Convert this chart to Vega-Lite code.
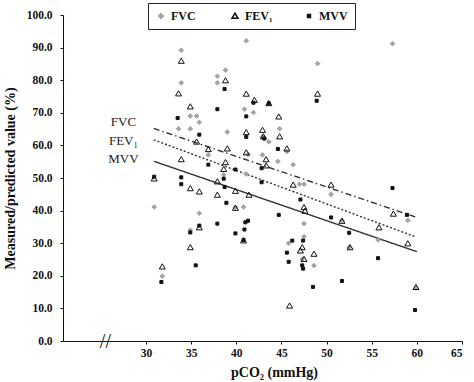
{
  "$schema": "https://vega.github.io/schema/vega-lite/v6.json",
  "width": 399,
  "height": 326,
  "autosize": {"type": "none"},
  "padding": {"left": 63, "top": 15, "right": 12, "bottom": 41},
  "background": "white",
  "config": {
    "view": {"stroke": null},
    "font": "Liberation Serif",
    "axis": {
      "grid": false,
      "domainColor": "#111",
      "tickColor": "#111",
      "tickSize": 3,
      "labelFont": "Liberation Serif",
      "labelFontWeight": "bold",
      "labelFontSize": 11.5,
      "labelColor": "#111",
      "titleFont": "Liberation Serif",
      "titleFontWeight": "bold",
      "titleFontSize": 14,
      "titleColor": "#111"
    },
    "axisY": {"labelOverlap": false, "tickCount": 11},
    "axisX": {"titleX": 211},
    "legend": {
      "orient": "none",
      "legendX": 85,
      "legendY": -12,
      "direction": "horizontal",
      "strokeColor": "#222",
      "fillColor": "white",
      "padding": 7,
      "labelFont": "Liberation Serif",
      "labelFontWeight": "bold",
      "labelFontSize": 12,
      "labelColor": "#111",
      "gridAlign": "all",
      "columnPadding": 28,
      "symbolSize": 30,
      "title": null
    }
  },
  "datasets": {
    "pts": [
      {"series": "FVC", "pco2": 30.9, "value": 41.1},
      {"series": "FVC", "pco2": 31.8, "value": 19.9},
      {"series": "FVC", "pco2": 33.9, "value": 89.2},
      {"series": "FVC", "pco2": 33.9, "value": 79.2},
      {"series": "FVC", "pco2": 33.6, "value": 65.1},
      {"series": "FVC", "pco2": 34.9, "value": 69.0},
      {"series": "FVC", "pco2": 34.9, "value": 65.1},
      {"series": "FVC", "pco2": 35.6, "value": 69.0},
      {"series": "FVC", "pco2": 35.9, "value": 67.1},
      {"series": "FVC", "pco2": 35.9, "value": 39.2},
      {"series": "FVC", "pco2": 34.9, "value": 34.0},
      {"series": "FVC", "pco2": 36.9, "value": 57.1},
      {"series": "FVC", "pco2": 37.9, "value": 81.2},
      {"series": "FVC", "pco2": 37.9, "value": 79.2},
      {"series": "FVC", "pco2": 38.8, "value": 83.1},
      {"series": "FVC", "pco2": 39.0, "value": 64.1},
      {"series": "FVC", "pco2": 38.6, "value": 51.0},
      {"series": "FVC", "pco2": 39.9, "value": 41.0},
      {"series": "FVC", "pco2": 40.8, "value": 41.1},
      {"series": "FVC", "pco2": 41.1, "value": 92.1},
      {"series": "FVC", "pco2": 40.9, "value": 71.1},
      {"series": "FVC", "pco2": 41.3, "value": 57.2},
      {"series": "FVC", "pco2": 41.1, "value": 51.2},
      {"series": "FVC", "pco2": 41.9, "value": 70.1},
      {"series": "FVC", "pco2": 42.9, "value": 62.7},
      {"series": "FVC", "pco2": 42.9, "value": 57.1},
      {"series": "FVC", "pco2": 43.6, "value": 61.1},
      {"series": "FVC", "pco2": 44.6, "value": 55.1},
      {"series": "FVC", "pco2": 44.8, "value": 65.1},
      {"series": "FVC", "pco2": 45.6, "value": 58.1},
      {"series": "FVC", "pco2": 46.3, "value": 54.1},
      {"series": "FVC", "pco2": 45.8, "value": 30.0},
      {"series": "FVC", "pco2": 47.0, "value": 48.1},
      {"series": "FVC", "pco2": 47.5, "value": 48.1},
      {"series": "FVC", "pco2": 47.5, "value": 36.0},
      {"series": "FVC", "pco2": 47.5, "value": 32.0},
      {"series": "FVC", "pco2": 47.3, "value": 25.1},
      {"series": "FVC", "pco2": 48.6, "value": 23.1},
      {"series": "FVC", "pco2": 49.0, "value": 85.1},
      {"series": "FVC", "pco2": 50.5, "value": 45.0},
      {"series": "FVC", "pco2": 51.7, "value": 37.0},
      {"series": "FVC", "pco2": 52.5, "value": 28.7},
      {"series": "FVC", "pco2": 55.7, "value": 31.0},
      {"series": "FVC", "pco2": 57.3, "value": 91.2},
      {"series": "FVC", "pco2": 59.0, "value": 37.0},
      {"series": "FVC", "pco2": 59.9, "value": 16.2},
      {"series": "FEV₁", "pco2": 30.9, "value": 49.8},
      {"series": "FEV₁", "pco2": 31.8, "value": 22.8},
      {"series": "FEV₁", "pco2": 33.9, "value": 85.9},
      {"series": "FEV₁", "pco2": 33.6, "value": 75.9},
      {"series": "FEV₁", "pco2": 33.9, "value": 55.7},
      {"series": "FEV₁", "pco2": 34.9, "value": 71.9},
      {"series": "FEV₁", "pco2": 35.6, "value": 61.1},
      {"series": "FEV₁", "pco2": 34.9, "value": 46.8},
      {"series": "FEV₁", "pco2": 35.9, "value": 45.8},
      {"series": "FEV₁", "pco2": 34.9, "value": 28.7},
      {"series": "FEV₁", "pco2": 35.9, "value": 34.8},
      {"series": "FEV₁", "pco2": 36.9, "value": 58.8},
      {"series": "FEV₁", "pco2": 37.9, "value": 48.9},
      {"series": "FEV₁", "pco2": 37.9, "value": 44.8},
      {"series": "FEV₁", "pco2": 38.8, "value": 79.9},
      {"series": "FEV₁", "pco2": 39.0, "value": 59.0},
      {"series": "FEV₁", "pco2": 38.8, "value": 54.8},
      {"series": "FEV₁", "pco2": 38.6, "value": 52.7},
      {"series": "FEV₁", "pco2": 39.9, "value": 46.0},
      {"series": "FEV₁", "pco2": 39.9, "value": 40.8},
      {"series": "FEV₁", "pco2": 40.8, "value": 30.8},
      {"series": "FEV₁", "pco2": 41.1, "value": 75.8},
      {"series": "FEV₁", "pco2": 41.1, "value": 64.0},
      {"series": "FEV₁", "pco2": 41.1, "value": 57.8},
      {"series": "FEV₁", "pco2": 41.4, "value": 44.8},
      {"series": "FEV₁", "pco2": 42.0, "value": 73.9},
      {"series": "FEV₁", "pco2": 42.9, "value": 64.7},
      {"series": "FEV₁", "pco2": 43.0, "value": 62.7},
      {"series": "FEV₁", "pco2": 43.3, "value": 55.7},
      {"series": "FEV₁", "pco2": 43.3, "value": 53.8},
      {"series": "FEV₁", "pco2": 43.6, "value": 72.9},
      {"series": "FEV₁", "pco2": 44.7, "value": 68.8},
      {"series": "FEV₁", "pco2": 44.8, "value": 62.7},
      {"series": "FEV₁", "pco2": 45.6, "value": 59.0},
      {"series": "FEV₁", "pco2": 46.3, "value": 47.9},
      {"series": "FEV₁", "pco2": 45.9, "value": 10.8},
      {"series": "FEV₁", "pco2": 47.5, "value": 41.0},
      {"series": "FEV₁", "pco2": 47.6, "value": 39.9},
      {"series": "FEV₁", "pco2": 47.3, "value": 28.7},
      {"series": "FEV₁", "pco2": 47.1, "value": 27.7},
      {"series": "FEV₁", "pco2": 47.5, "value": 25.1},
      {"series": "FEV₁", "pco2": 48.6, "value": 26.7},
      {"series": "FEV₁", "pco2": 49.0, "value": 75.8},
      {"series": "FEV₁", "pco2": 50.5, "value": 47.9},
      {"series": "FEV₁", "pco2": 51.7, "value": 36.8},
      {"series": "FEV₁", "pco2": 52.6, "value": 28.7},
      {"series": "FEV₁", "pco2": 55.8, "value": 34.8},
      {"series": "FEV₁", "pco2": 57.4, "value": 39.0},
      {"series": "FEV₁", "pco2": 59.0, "value": 29.9},
      {"series": "FEV₁", "pco2": 59.9, "value": 16.5},
      {"series": "MVV", "pco2": 30.9, "value": 50.4},
      {"series": "MVV", "pco2": 31.7, "value": 18.1},
      {"series": "MVV", "pco2": 33.5, "value": 68.4},
      {"series": "MVV", "pco2": 33.9, "value": 50.2},
      {"series": "MVV", "pco2": 33.9, "value": 48.1},
      {"series": "MVV", "pco2": 34.9, "value": 33.3},
      {"series": "MVV", "pco2": 35.9, "value": 63.3},
      {"series": "MVV", "pco2": 35.9, "value": 35.4},
      {"series": "MVV", "pco2": 35.5, "value": 23.2},
      {"series": "MVV", "pco2": 36.9, "value": 54.1},
      {"series": "MVV", "pco2": 37.9, "value": 71.1},
      {"series": "MVV", "pco2": 37.9, "value": 36.0},
      {"series": "MVV", "pco2": 38.7, "value": 77.3},
      {"series": "MVV", "pco2": 38.6, "value": 49.8},
      {"series": "MVV", "pco2": 38.7, "value": 47.2},
      {"series": "MVV", "pco2": 38.9, "value": 42.4},
      {"series": "MVV", "pco2": 39.9, "value": 52.6},
      {"series": "MVV", "pco2": 39.9, "value": 33.0},
      {"series": "MVV", "pco2": 40.8, "value": 31.0},
      {"series": "MVV", "pco2": 40.9, "value": 34.2},
      {"series": "MVV", "pco2": 41.0, "value": 36.4},
      {"series": "MVV", "pco2": 41.3, "value": 36.9},
      {"series": "MVV", "pco2": 41.1, "value": 68.9},
      {"series": "MVV", "pco2": 41.1, "value": 62.6},
      {"series": "MVV", "pco2": 41.9, "value": 73.1},
      {"series": "MVV", "pco2": 42.8, "value": 53.0},
      {"series": "MVV", "pco2": 42.8, "value": 48.7},
      {"series": "MVV", "pco2": 43.1, "value": 62.1},
      {"series": "MVV", "pco2": 43.6, "value": 72.9},
      {"series": "MVV", "pco2": 44.6, "value": 58.9},
      {"series": "MVV", "pco2": 44.7, "value": 38.7},
      {"series": "MVV", "pco2": 45.6, "value": 27.1},
      {"series": "MVV", "pco2": 45.8, "value": 24.3},
      {"series": "MVV", "pco2": 46.2, "value": 30.8},
      {"series": "MVV", "pco2": 47.1, "value": 43.4},
      {"series": "MVV", "pco2": 47.4, "value": 30.8},
      {"series": "MVV", "pco2": 47.3, "value": 23.2},
      {"series": "MVV", "pco2": 47.4, "value": 22.2},
      {"series": "MVV", "pco2": 48.5, "value": 16.6},
      {"series": "MVV", "pco2": 48.9, "value": 73.7},
      {"series": "MVV", "pco2": 50.5, "value": 37.9},
      {"series": "MVV", "pco2": 51.7, "value": 18.4},
      {"series": "MVV", "pco2": 52.5, "value": 33.2},
      {"series": "MVV", "pco2": 55.7, "value": 25.4},
      {"series": "MVV", "pco2": 57.3, "value": 46.9},
      {"series": "MVV", "pco2": 58.9, "value": 38.7},
      {"series": "MVV", "pco2": 59.8, "value": 9.5}
    ],
    "fits": [
      {"fit": "FVC", "pco2": 30.85, "value": 65.2},
      {"fit": "FVC", "pco2": 60.0, "value": 37.9},
      {"fit": "FEV1", "pco2": 30.85, "value": 61.7},
      {"fit": "FEV1", "pco2": 59.8, "value": 32.0},
      {"fit": "MVV", "pco2": 30.9, "value": 55.1},
      {"fit": "MVV", "pco2": 60.0, "value": 27.4}
    ],
    "labels": [
      {"label": "FVC", "pco2": 27.5, "value": 67.3},
      {"label": "FEV₁", "pco2": 27.5, "value": 61.5},
      {"label": "MVV", "pco2": 27.5, "value": 55.7}
    ],
    "brk": [
      {"mark": "//", "pco2": 25.5, "value": 0}
    ]
  },
  "encoding": {
    "x": {"field": "pco2", "type": "quantitative", "scale": {"domain": [20.8, 65], "nice": false, "zero": false},
      "axis": {"values": [30, 35, 40, 45, 50, 55, 60, 65], "title": "pCO₂ (mmHg)", "titlePadding": 7, "titleX": 211, "labelPadding": 3}},
    "y": {"field": "value", "type": "quantitative", "scale": {"domain": [0, 100], "nice": false},
      "axis": {"format": ".1f", "title": "Measured/predicted value (%)", "labelPadding": 8, "titlePadding": 9}}
  },
  "layer": [
    {
      "data": {"name": "fits"},
      "mark": {"type": "line", "color": "#333", "strokeWidth": 1.4},
      "encoding": {
        "detail": {"field": "fit"},
        "strokeDash": {"field": "fit", "type": "nominal", "legend": null,
          "scale": {"domain": ["FVC", "FEV1", "MVV"], "range": [[6, 3, 1.5, 3], [2, 2], [1, 0]]}}
      }
    },
    {
      "data": {"name": "pts"},
      "mark": {"type": "point", "strokeWidth": 1, "opacity": 1, "size": 30},
      "encoding": {
        "shape": {"field": "series", "type": "nominal",
          "scale": {"domain": ["FVC", "FEV₁", "MVV"], "range": ["M0,-0.85L0.85,0L0,0.85L-0.85,0Z", "M0,-1.05L1.1,0.85L-1.1,0.85Z", "M-0.55,-0.55H0.55V0.55H-0.55Z"]}},
        "fill": {"field": "series", "type": "nominal",
          "scale": {"domain": ["FVC", "FEV₁", "MVV"], "range": ["#a4a4a4", "rgba(255,255,255,0)", "#111111"]}},
        "stroke": {"field": "series", "type": "nominal",
          "scale": {"domain": ["FVC", "FEV₁", "MVV"], "range": ["#a4a4a4", "#111111", "#111111"]}}
      }
    },
    {
      "data": {"name": "labels"},
      "mark": {"type": "text", "font": "Liberation Serif", "fontSize": 13, "color": "#222", "align": "center", "baseline": "middle"},
      "encoding": {
        "text": {"field": "label"}
      }
    },
    {
      "data": {"name": "brk"},
      "mark": {"type": "text", "font": "Liberation Serif", "fontSize": 20, "color": "#111", "align": "center", "baseline": "middle", "dy": 1},
      "encoding": {
        "text": {"field": "mark"}
      }
    }
  ]
}
